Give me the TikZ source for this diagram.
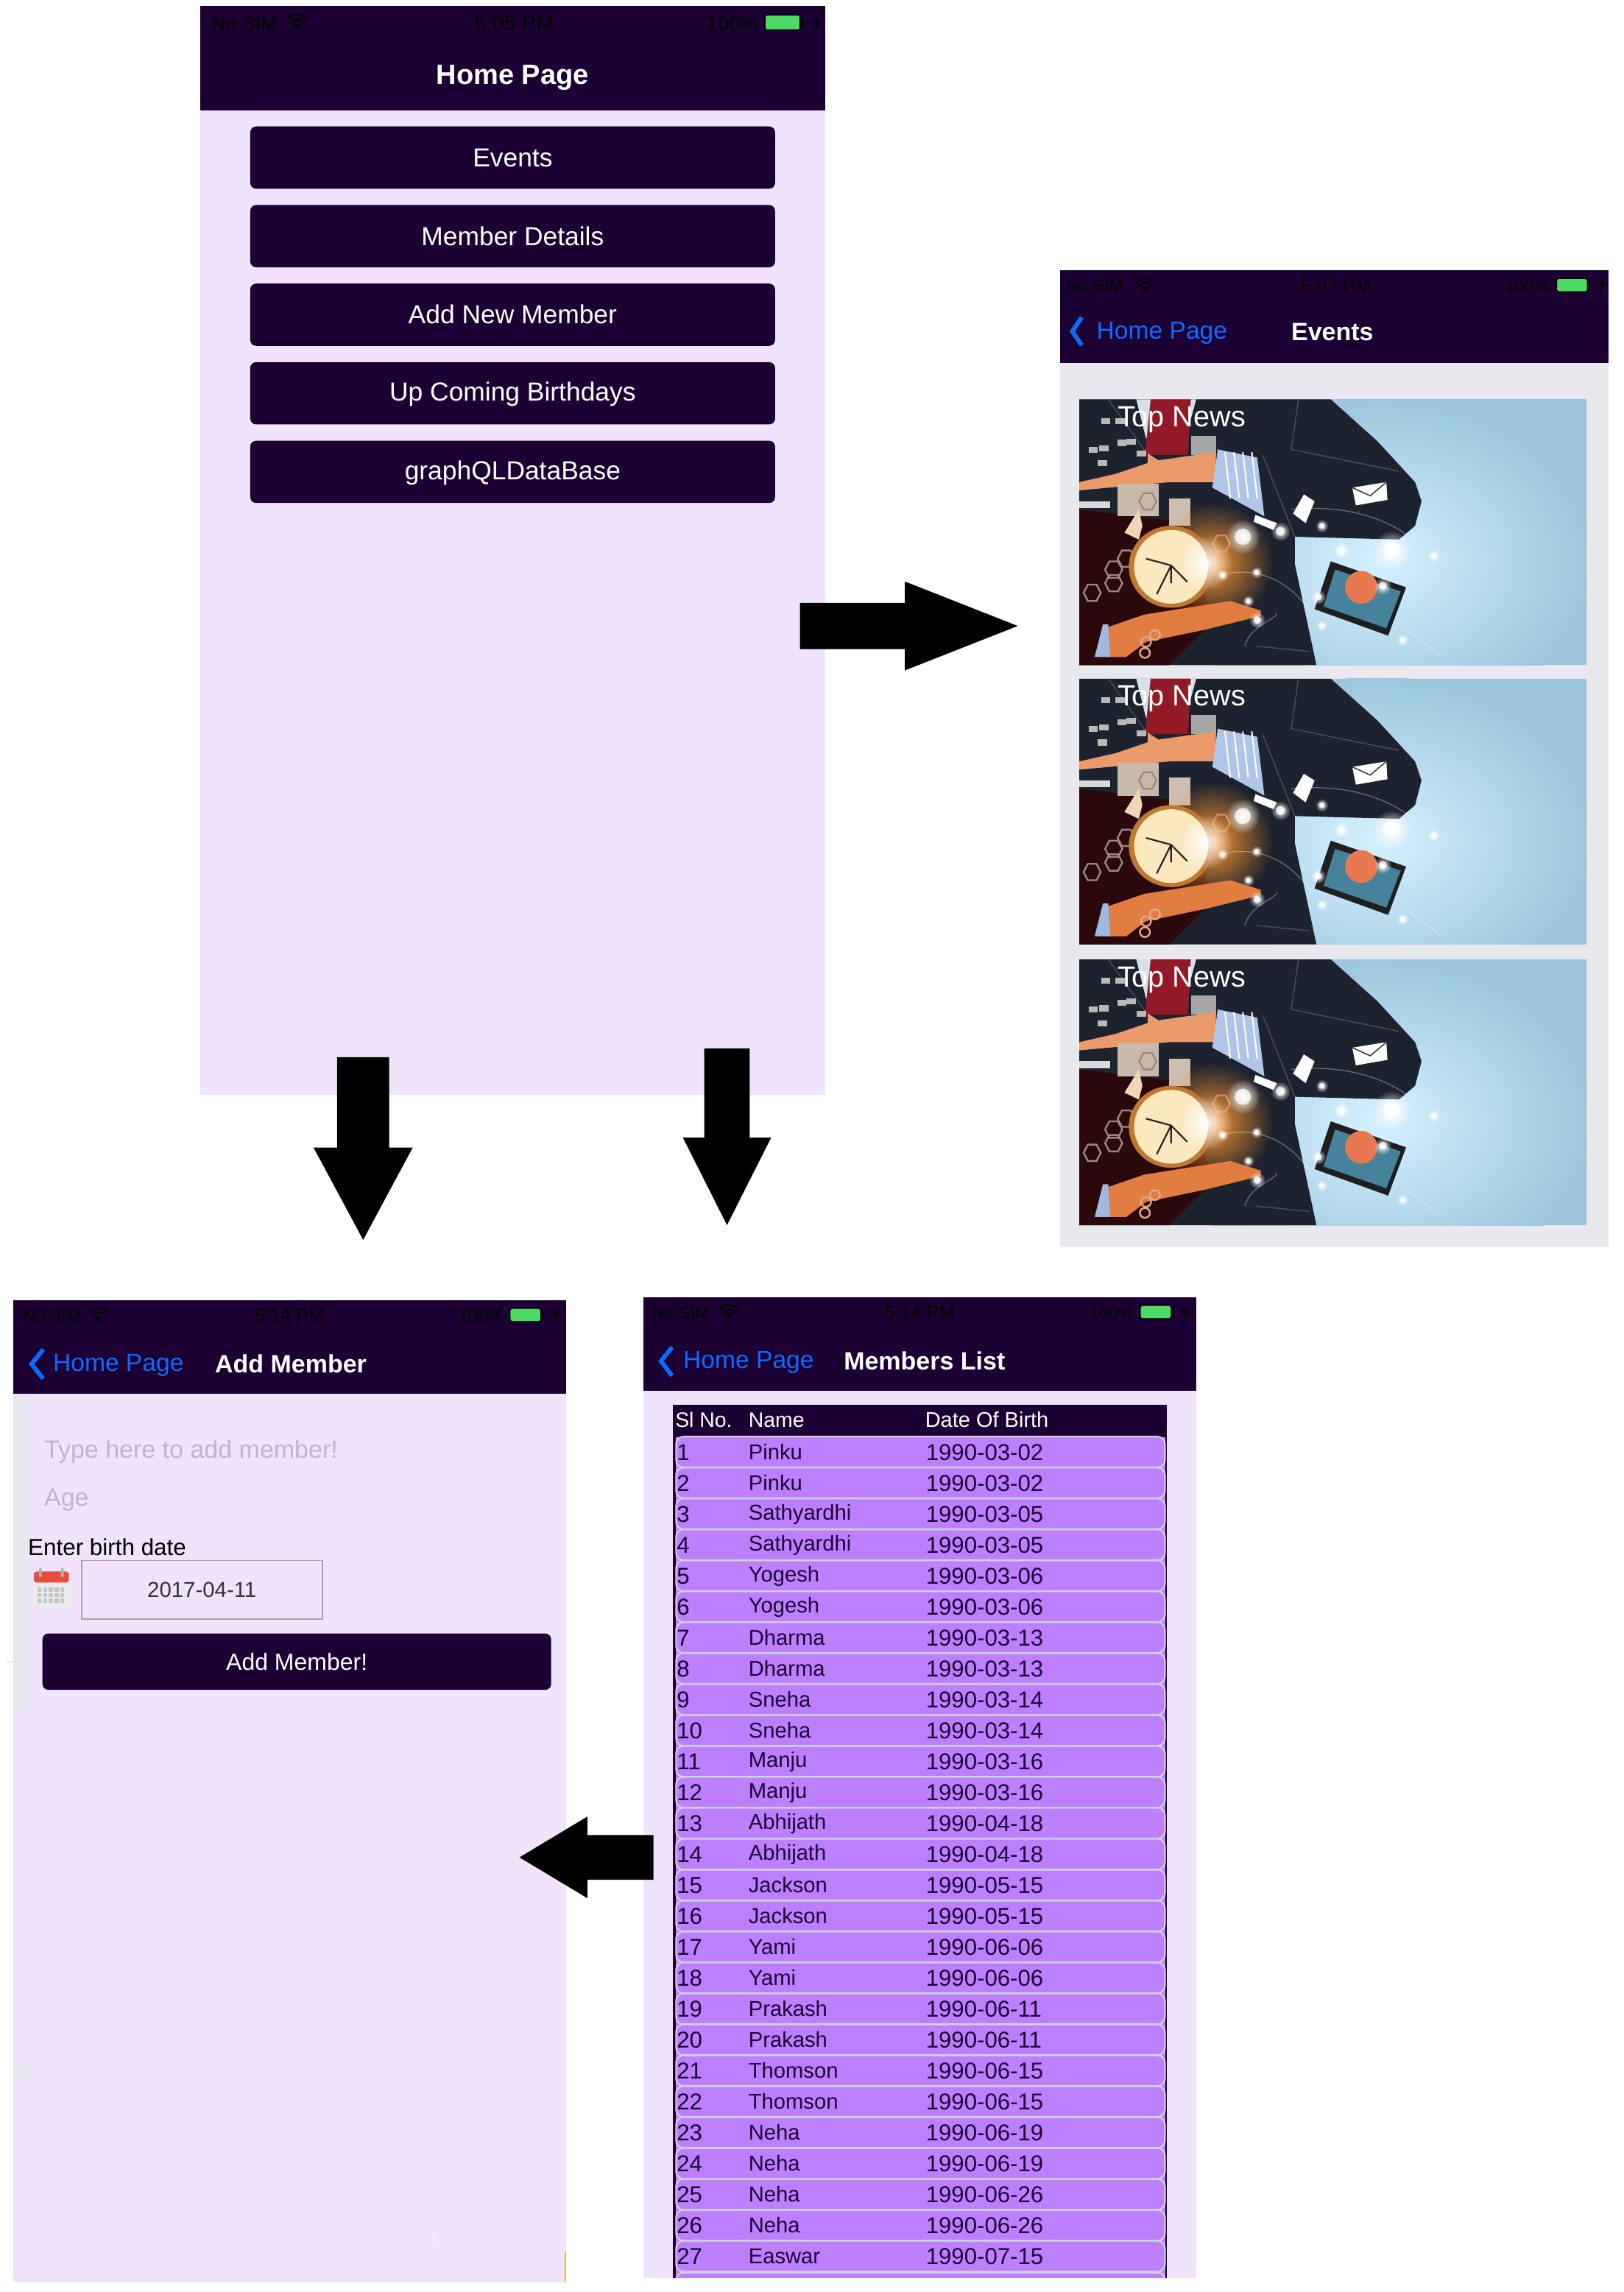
\documentclass[tikz,border=0pt]{standalone}
\usepackage{fontspec}
\setmainfont{Liberation Sans}
\usetikzlibrary{shapes.arrows,fadings}
\definecolor{barcol}{HTML}{1D0033}
\definecolor{screencol}{HTML}{F2E3FD}
\definecolor{eventscol}{HTML}{E9E8EE}
\definecolor{rowcol}{HTML}{BE7FFF}
\definecolor{backcol}{HTML}{0A6CFF}
\definecolor{hintcol}{HTML}{BDB6CC}
\definecolor{battcol}{HTML}{4CD964}
\definecolor{linecol}{HTML}{D0D0D6}
\newcommand{\uisize}[1]{\fontsize{#1}{#1}\selectfont}
\tikzfading[name=softglow,inner color=transparent!0,outer color=transparent!100]
\tikzset{
  capfix/.style={execute at begin node={\rule[-.1em]{0pt}{.9em}}},
  lbl/.style={inner sep=0pt,capfix},
  lblw/.style={lbl,anchor=west},
  bartitle/.style={lbl,text=white,font=\bfseries\uisize{17}},
  backlbl/.style={lblw,text=backcol,font=\uisize{16.8}},
  chevron/.style={draw=backcol,line width=3pt,line join=miter},
  btn/.style={fill=barcol,rounded corners=4pt,text=white,minimum width=356.5pt,minimum height=42.3pt,inner sep=0pt,capfix,font=\uisize{17.7}},
  cell/.style={lblw,text=barcol,font=\uisize{15.6}},
  namecell/.style={lblw,text=barcol,font=\uisize{14.6}},
  headcell/.style={lblw,text=white,font=\uisize{14.2}},
  blockarrow/.style={single arrow,fill=black,inner sep=0pt,text depth=0pt,anchor=tail},
  glow/.style={path fading=softglow},
}
% status line of a phone screen, #1 left, #2 text offset, #3 scale, #4 time, #5 top
\newcommand{\statusline}[5]{
  \begin{scope}[shift={(#1,#5)},scale=#3,every node/.append style={transform shape}]
    \node[lblw,font=\uisize{11.8}] (sim#4) at (#2,21) {No SIM};
    \draw[line width=1.2pt,line cap=round] (105,16) .. controls (111,9) and (123,9) .. (129,16);
    \draw[line width=1.2pt,line cap=round] (109,21) .. controls (113,15) and (121,15) .. (125,21);
    \fill (117,29) -- (112,24) .. controls (115,21) and (119,21) .. (122,24) -- cycle;
    \node[lbl,font=\uisize{12.8}] (clock#4) at (377,21) {#4};
    \node[lbl,anchor=east,font=\uisize{12}] (pct#4) at (670,21) {100\%};
    \fill[battcol,draw=black,line width=.6pt,rounded corners=1.5pt] (678,11) rectangle (720,29);
    \fill (721.5,16) rectangle (724,24);
    \fill (743,9) -- (735,21) -- (740,21) -- (737,31) -- (745,18) -- (740,18) -- cycle;
  \end{scope}
}
% one picture of the events list, #1 top, #2 number
\newcommand{\newsphoto}[2]{
  \begin{scope}[shift={(1448.6,#1-187.3)},x=0.2437pt,y=-0.1855pt]
    \begin{scope}
      \clip (49,497) rectangle (1463,1470);
      \fill[color={rgb,255:red,155;green,198;blue,221}] (49,497) rectangle (1463,1470);
      \shade[inner color={rgb,255:red,214;green,241;blue,255},outer color={rgb,255:red,155;green,198;blue,221}] (880,1090) ellipse [x radius=600,y radius=600];
      \fill[color={rgb,255:red,28;green,35;blue,46}] (49,497) -- (750,497) -- (880,650) -- (985,800) -- (1003,870) -- (985,960) -- (940,1010) -- (650,1000) -- (650,1100) -- (710,1470) -- (49,1470) -- cycle;
      \draw[color={rgb,255:red,70;green,78;blue,92},line width=.7pt] (660,497) -- (640,680) -- (940,760) (560,700) -- (650,1000) (540,1400) -- (690,1420) (130,497) -- (240,700);
      \fill[color={rgb,255:red,42;green,8;blue,12}] (49,900) -- (300,940) -- (430,1300) -- (300,1470) -- (49,1470) -- cycle;
      \fill[color={rgb,255:red,215;green,225;blue,238}] (208,497) -- (375,497) -- (345,640) -- (235,640) -- cycle;
      \fill[color={rgb,255:red,145;green,26;blue,38}] (248,497) -- (360,497) -- (352,700) -- (232,700) -- cycle;
      \fill[gray!70] (360,630) rectangle (430,700);
      \foreach \bx/\by in {110/565,150/565,155/645,210/685,100/720,105/665,75/670,180/640}
        \fill[gray!55] (\bx,\by) rectangle ++(26,22);
      \fill[color={rgb,255:red,235;green,155;blue,105}] (49,800) -- (150,770) -- (240,730) -- (240,695) -- (270,720) -- (430,690) -- (430,800) -- (300,800) -- (49,830) -- cycle;
      \fill[color={rgb,255:red,175;green,198;blue,232}] (435,680) -- (545,710) -- (565,925) -- (420,820) -- cycle;
      \foreach \sx in {455,480,505,530}
        \draw[white,line width=1pt] (\sx,690) -- (\sx+15,860);
      \fill[color={rgb,255:red,200;green,185;blue,170}] (155,805) rectangle (270,925);
      \fill[color={rgb,255:red,205;green,190;blue,175}] (300,860) rectangle (358,960);
      \fill[white!85!black] (49,870) rectangle (135,895);
      \foreach \hx/\hy in {145/1120,180/1080,145/1170,85/1205,445/1025,240/870}
        \draw[color={rgb,255:red,160;green,135;blue,125},line width=1.2pt] (\hx-24,\hy) -- (\hx-12,\hy-30) -- (\hx+12,\hy-30) -- (\hx+24,\hy) -- (\hx+12,\hy+30) -- (\hx-12,\hy+30) -- cycle;
      \fill[color={rgb,255:red,250;green,150;blue,50},glow] (420,1095) ellipse [x radius=170,y radius=220];
      \fill[color={rgb,255:red,190;green,120;blue,50}] (305,1110) ellipse [x radius=118,y radius=150];
      \fill[color={rgb,255:red,250;green,232;blue,190}] (305,1110) ellipse [x radius=103,y radius=135];
      \fill[white,glow] (400,1095) ellipse [x radius=75,y radius=100];
      \draw[black!85,line width=1.1pt] (305,1105) -- (235,1080) (305,1105) -- (265,1210) (305,1105) -- (350,1165) (305,1105) -- (305,1170);
      \fill[color={rgb,255:red,240;green,215;blue,180}] (175,985) -- (215,900) -- (225,960) -- (215,1010) -- cycle;
      \fill[color={rgb,255:red,225;green,125;blue,65}] (130,1440) -- (130,1330) -- (230,1285) -- (470,1235) -- (555,1270) -- (555,1290) -- (400,1340) -- (235,1385) -- (180,1440) -- cycle;
      \fill[color={rgb,255:red,160;green,185;blue,225}] (92,1440) -- (115,1320) -- (130,1320) -- (135,1440) -- cycle;
      \foreach \hx/\hy in {235/1385,260/1360,232/1425}
        \draw[color={rgb,255:red,225;green,170;blue,140},line width=1.2pt] (\hx,\hy) ellipse [x radius=14,y radius=18];
      \draw[white,opacity=.35,line width=.6pt] (640,900) .. controls (780,880) and (930,930) .. (1000,1040) (440,1140) .. controls (560,1100) and (650,1180) .. (700,1290) (510,1400) .. controls (530,1320) and (590,1310) .. (600,1280) (960,1340) -- (1050,1430);
      \fill[black!88] (750,1090) -- (960,1185) -- (910,1362) -- (705,1265) -- cycle;
      \fill[color={rgb,255:red,70;green,130;blue,155}] (762,1120) -- (945,1200) -- (905,1335) -- (730,1255) -- cycle;
      \fill[color={rgb,255:red,232;green,120;blue,80}] (835,1185) ellipse [x radius=45,y radius=60];
      \fill[white] (810,820) -- (905,800) -- (908,865) -- (820,885) -- cycle;
      \draw[black!75,line width=.8pt] (810,820) -- (860,850) -- (905,800);
      \fill[white] (675,845) -- (705,870) -- (680,950) -- (645,915) -- cycle;
      \fill[white] (540,920) -- (600,950) -- (590,975) -- (535,945) -- cycle;
      \foreach \gx/\gy/\gr in {505/1000/32,610/980/18,725/960/12,920/1050/36,1037/1070/12,715/1220/14,895/1180/16,545/1305/15,448/1140/11,543/1130/11,520/1235/11,725/1325/11,950/1378/11,780/1050/16}{
        \fill[white,glow] (\gx,\gy) ellipse [x radius=1.5*\gr,y radius=2*\gr];
        \fill[white,opacity=.75] (\gx,\gy) ellipse [x radius=.7*\gr,y radius=.92*\gr];
      }
    \end{scope}
    \node[lblw,text=white,font=\uisize{19.8}] (topnews#2) at (155,565) {Top News};
  \end{scope}
}
\begin{document}
\begin{tikzpicture}[x=0.4978pt,y=-0.4978pt]
  \useasboundingbox (0,0) rectangle (2215,3127);
  \fill[white] (0,0) rectangle (2215,3127);

  % home page
  \fill[screencol] (273,8) rectangle (1126,1494);
  \fill[barcol] (273,8) rectangle (1126,151);
  \statusline{273}{13.4}{1.137}{5:05 PM}{8}
  \node[bartitle,font=\bfseries\uisize{19}] (hometitle) at (699.5,104) {Home Page};
  \foreach \n/\what in {0/Events,1/Member Details,2/Add New Member,3/Up Coming Birthdays,4/graphQLDataBase}
    \node[btn] (homebtn\n) at (699.5,215+107.2*\n) {\what};

  % events page
  \fill[eventscol] (1446,369) rectangle (2195,1702);
  \fill[barcol] (1446,369) rectangle (2195,495);
  \statusline{1446}{8}{1}{5:07 PM}{369}
  \draw[chevron] (1476,433) -- (1463,452) -- (1476,471);
  \node[backlbl] (eventsback) at (1496,453) {Home Page};
  \node[bartitle] (eventstitle) at (1818,453) {Events};
  \newsphoto{547}{1}
  \newsphoto{928}{2}
  \newsphoto{1311}{3}

  % add member page
  \fill[screencol] (18,1774) rectangle (772,3114);
  \fill[eventscol] (18,1901) rectangle (38,2338);
  \fill[eventscol] (18,2816) rectangle (42,2839);
  \draw[eventscol,line width=1pt] (8,2267) -- (18,2267);
  \draw[white,line width=.5pt] (592.6,3048) -- (592.6,3064);
  \draw[color={rgb,255:red,240;green,180;blue,70},line width=.6pt] (771.5,3073) -- (771.5,3114);
  \fill[barcol] (18,1774) rectangle (772,1901);
  \statusline{18}{13}{1}{5:14 PM}{1774}
  \draw[chevron] (59,1841) -- (43,1861) -- (59,1881);
  \node[backlbl] (addback) at (72,1861) {Home Page};
  \node[bartitle,anchor=west] (addtitle) at (293,1861) {Add Member};
  \node[lblw,text=hintcol,font=\uisize{17}] (addhint) at (60,1979) {Type here to add member!};
  \node[lblw,text=hintcol,font=\uisize{17}] (agehint) at (60,2045) {Age};
  \node[lblw,font=\uisize{15.7}] (birthlbl) at (38,2111) {Enter birth date};
  \fill[color={rgb,255:red,232;green,236;blue,236},rounded corners=2pt] (46,2150) rectangle (94,2195);
  \fill[color={rgb,255:red,231;green,76;blue,60},rounded corners=2pt] (46,2144) rectangle (94,2159);
  \fill[gray!60,rounded corners=1pt] (53,2139) rectangle (57,2152) (83,2139) rectangle (87,2152);
  \foreach \gx in {0,1,2,3,4}
    \foreach \gy in {0,1,2}
      \fill[gray!45] (51+7.8*\gx,2166+7.6*\gy) rectangle ++(5.5,5.5);
  \node[draw=black!35,line width=.9pt,minimum width=163.5pt,minimum height=39.8pt,inner sep=0pt,capfix,text=black!80,font=\uisize{14.7}] (datebox) at (275.5,2169) {2017-04-11};
  \node[btn,minimum width=345.5pt,minimum height=38.3pt,font=\uisize{16}] (addbtn) at (405,2267) {Add Member!};

  % members list page
  \fill[screencol] (878,1770) rectangle (1632,3108);
  \fill[barcol] (878,1770) rectangle (1632,1897);
  \statusline{878}{11}{1}{5:14 PM}{1770}
  \draw[chevron] (917,1838) -- (902,1857) -- (917,1877);
  \node[backlbl] (listback) at (932,1857) {Home Page};
  \node[bartitle,anchor=west] (listtitle) at (1151,1857) {Members List};
  \fill[barcol] (918,1917) rectangle (1592,3108);
  \fill[rowcol] (922,1961) rectangle (1590,3108);
  \node[headcell] (headno) at (921,1937) {Sl No.};
  \node[headcell] (headname) at (1021,1937) {Name};
  \node[headcell,font=\uisize{14.5}] (headdob) at (1262,1937) {Date Of Birth};
  \foreach \n/\who/\dob in {1/Pinku/1990-03-02,2/Pinku/1990-03-02,3/Sathyardhi/1990-03-05,4/Sathyardhi/1990-03-05,5/Yogesh/1990-03-06,6/Yogesh/1990-03-06,7/Dharma/1990-03-13,8/Dharma/1990-03-13,9/Sneha/1990-03-14,10/Sneha/1990-03-14,11/Manju/1990-03-16,12/Manju/1990-03-16,13/Abhijath/1990-04-18,14/Abhijath/1990-04-18,15/Jackson/1990-05-15,16/Jackson/1990-05-15,17/Yami/1990-06-06,18/Yami/1990-06-06,19/Prakash/1990-06-11,20/Prakash/1990-06-11,21/Thomson/1990-06-15,22/Thomson/1990-06-15,23/Neha/1990-06-19,24/Neha/1990-06-19,25/Neha/1990-06-26,26/Neha/1990-06-26,27/Easwar/1990-07-15}{
    \pgfmathsetmacro{\rowy}{1981+42.2*(\n-1)}
    \draw[linecol,line width=1.1pt,rounded corners=5pt] (922.5,\rowy-21) rectangle (1589.5,\rowy+21);
    \node[cell] (rowno\n) at (923,\rowy) {\n};
    \node[namecell] (rowname\n) at (1021,\rowy) {\who};
    \node[cell] (rowdob\n) at (1263,\rowy) {\dob};
  }
  \begin{scope}
    \clip (918,3060) rectangle (1592,3108);
    \draw[linecol,line width=1.1pt,rounded corners=5pt] (922.5,3100.5) rectangle (1589.5,3160);
  \end{scope}

  % arrows
  \node[blockarrow,minimum height=148pt,text height=31pt,single arrow head extend=14.5pt,single arrow tip angle=43] (toevents) at (1091,854) {};
  \node[blockarrow,rotate=-90,minimum height=124pt,text height=35pt,single arrow head extend=16pt,single arrow tip angle=56.5] (toadd) at (495.5,1442) {};
  \node[blockarrow,rotate=-90,minimum height=120pt,text height=30.5pt,single arrow head extend=14.5pt,single arrow tip angle=53.5] (tolist) at (992,1430) {};
  \node[blockarrow,rotate=180,minimum height=91pt,text height=30pt,single arrow head extend=12.5pt,single arrow tip angle=62] (listtoadd) at (892,2534) {};
\end{tikzpicture}
\end{document}
